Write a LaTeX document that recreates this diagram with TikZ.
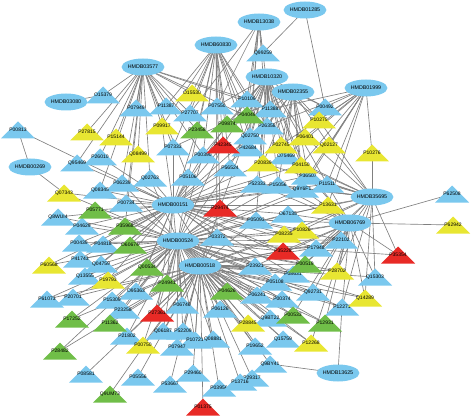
\documentclass[tikz,border=0pt]{standalone}
\usepackage{fontspec}
\setmainfont{Liberation Sans}
\usetikzlibrary{shapes.geometric,backgrounds}
\definecolor{metblue}{RGB}{122,200,238}
\definecolor{protblue}{RGB}{122,200,238}
\definecolor{protyellow}{RGB}{232,230,50}
\definecolor{protgreen}{RGB}{112,190,72}
\definecolor{protred}{RGB}{232,42,38}
\definecolor{linkgrey}{RGB}{128,128,128}
\tikzset{
  met/.style={ellipse,fill=metblue,minimum width=40pt,minimum height=17pt,inner sep=0pt,
    font=\fontsize{5.3}{6}\selectfont},
  prot/.style={rectangle,minimum width=34pt,minimum height=17pt,inner sep=0pt,
    font=\fontsize{5}{6}\selectfont,
    path picture={\fill[#1] (path picture bounding box.south west)
      -- (path picture bounding box.south east) -- (path picture bounding box.north) -- cycle;}},
  link/.style={linkgrey,line width=0.65pt}
}
\begin{document}
\begin{tikzpicture}[x=1pt,y=-1pt]
\useasboundingbox (0,0) rectangle (474,417);

\foreach \n/\x/\y in {Q99259/263/53, O15379/103/95, P07949/136/108, P00813/18/130, P11387/166/106,
  P27707/190/113, P07550/217/106, P10109/247/99, P11388/270/109, P26358/267/126, P00492/325/107,
  Q02750/250/136, P42684/248/148, P07333/173/147, P00390/203/155, O75469/286/156, P26010/100/157,
  Q95469/77/163, P56524/230/168, P36507/308/176, Q02763/150/178, P05106/188/177, P06239/122/183,
  Q08345/100/190, P52333/257/184, P15056/278/185, Q9Y6F1/302/189, P11511/327/184, P00734/126/203,
  Q8WUI4/58/217, P05093/256/220, O67135/288/214, P04629/82/226, P03372/217/237, P62508/452/194,
  P22102/341/240, P00439/79/243, P04818/103/244, P17948/316/248, P41743/80/259, Q04759/101/264,
  P23921/255/266, Q13555/85/276, P08631/293/274, Q15303/375/277, P05108/275/282, O95363/136/291,
  Q92731/313/292, P06241/257/295, P61073/47/299, P20701/73/297, P15309/112/300, P00374/282/299,
  P06746/182/305, P12271/342/307, P23258/123/310, P06126/220/309, Q9BT22/270/318, Q06187/163/331,
  P52209/183/331, P21802/127/336, P10721/195/340, Q08881/213/339, Q15759/283/339, P07947/177/347,
  P19652/255/346, Q9BY41/270/364, P29460/193/373, P08581/86/374, P05556/138/377, P29317/252/378,
  P53667/170/384, P03956/219/388, P13716/240/382}
  \node[prot=protblue] (\n) at (\x,\y) {\n};

\foreach \n/\x/\y in {P27815/87/132, P15144/116/137, P09917/162/126, O15530/192/93, P10275/319/120,
  P06401/305/137, P02745/281/145, Q02127/329/145, P10276/372/153, Q08499/138/154, P20839/263/163,
  P04150/301/165, Q07343/64/193, P13631/328/205, P10826/302/230, P08235/284/234, P62942/453/225,
  P60568/49/265, P28702/337/271, P19793/108/280, Q14289/365/298, P28845/248/323, P00750/143/345,
  P12268/311/343}
  \node[prot=protyellow] (\n) at (\x,\y) {\n};

\foreach \n/\x/\y in {P04049/247/115, P09874/227/124, P23458/197/130, P05771/95/210, P35968/125/226,
  O60674/130/245, Q00534/147/267, P00519/305/264, P24941/167/283, P04626/227/291, P00533/293/315,
  P17252/72/319, P11362/110/323, P12931/325/323, P28482/60/351, Q9UM73/110/394}
  \node[prot=protgreen] (\n) at (\x,\y) {\n};

\foreach \n/\x/\y in {P42345/223/145, P29474/220/208, P35228/283/251, P35354/398/255,
  P27361/157/313, P01375/203/407}
  \node[prot=protred] (\n) at (\x,\y) {\n};

\foreach \n/\x/\y in {HMDB01285/305/10, HMDB13038/259/22, HMDB60830/216/45, HMDB03577/143/67,
  HMDB10320/267/77, HMDB02355/293/92, HMDB01999/366/88, HMDB03080/66/102, HMDB00269/30/167,
  HMDB00151/173/205, HMDB00524/178/241, HMDB00518/200/266, HMDB35695/372/197,
  HMDB06769/350/223, HMDB13625/338/373}
  \node[met] (\n) at (\x,\y) {\n};

\begin{pgfonlayer}{background}
\foreach \t in {P00813,Q95469,P26010,Q07343,Q08345,P06239,P00734,P05771,Q8WUI4,P04629,P35968,
  P00439,P04818,O60674,P41743,Q04759,P60568,Q00534,Q13555,P19793,O95363,P07333,Q02763,P05106,
  P00390,P42345,P56524,P29474,P05093,P03372,P52333,P15056,Q9Y6F1,P11511,P13631,O67135,P08235,
  P10826,P35228,P23921,P24941,P04626,P06746,P27361,P09917,P23458,P09874,P42684,Q02750,P20839,
  P36507,P04150,P17948,P22102,P00519,P08631}
  \draw[link] (HMDB00151.center) -- (\t.center);
\foreach \t in {P61073,P20701,P15309,P23258,P17252,P11362,P21802,P28482,P00750,Q06187,P52209,
  P10721,Q08881,P07947,P06126,P05108,P06241,P00374,Q9BT22,P28845,P00533,Q15759,P19652,P12931,
  P12268,Q92731,P28702,Q14289,P12271,P13631,P11511,Q9Y6F1,P52333,P15056,P05093,P03372,P29474,
  P56524,P00390,P42345,P05106,Q02763,P06239,P00734,P35968,O60674,P04818,P05771,Q00534,P19793,
  O95363,P24941,P04626,P06746,P27361,P35228,P08235,P10826,O67135,P23921,P00519,P08631,P17948,
  P22102,P35354,Q07343,Q8WUI4,P04629,P00439,P41743,Q04759,P60568,Q13555}
  \draw[link] (HMDB00524.center) -- (\t.center);
\foreach \t in {P28482,Q9UM73,P08581,P05556,P53667,P29460,P03956,P13716,P29317,P01375,Q9BY41,
  P19652,Q15759,P28845,Q9BT22,P00533,P12931,P12268,P12271,P06126,P07947,P10721,Q08881,Q06187,
  P52209,P00750,P21802,P11362,P17252,P23258,P15309,P20701,P61073,P06746,P27361,P04626,P24941,
  P05108,P06241,P00374,Q92731,P23921,P08631,P00519,P35228,P03372,P05093,P29474,P10826,P08235,
  P22102,P17948,Q14289,Q15303,P28702}
  \draw[link] (HMDB00518.center) -- (\t.center);
\foreach \t in {O15379,P07949,P27815,P15144,P09917,P11387,Q08499,P26010,Q95469,P07333,P06239,
  Q02763,P00390,P05106,P00734,P27707,O15530,P23458,P35968,Q08345,P10109,P11388,P26358}
  \draw[link] (HMDB03577.center) -- (\t.center);
\foreach \t in {P11387,O15530,P27707,P07550,P09917,P23458,P09874,P04049,P42345,P00390,P56524,
  P07333,P05106,Q02750,P42684,P10109,P26358,P29474,P03372}
  \draw[link] (HMDB60830.center) -- (\t.center);
\foreach \t in {Q99259,P10109,P11388,P07550,P04049,P26358,Q02750,P42684,P27707}
  \draw[link] (HMDB13038.center) -- (\t.center);
\foreach \t in {Q99259,P00492}
  \draw[link] (HMDB01285.center) -- (\t.center);
\foreach \t in {P10109,P11388,P04049,P09874,P26358,Q02750,P42684,P02745,P06401,O75469,P20839,
  P56524,P52333,P15056,P36507,P04150,P07550,P00390,P42345,P29474,P05093,Q9Y6F1,P11511,P00492,
  P10275}
  \draw[link] (HMDB10320.center) -- (\t.center);
\foreach \t in {P11388,P26358,P02745,P06401,O75469,P20839,P04150,P36507,P15056,Q9Y6F1,P00492,
  P10275,Q02127,P42684,P07333}
  \draw[link] (HMDB02355.center) -- (\t.center);
\foreach \t in {P00492,P10275,P06401,Q02127,P10276,P04150,P36507,P11511,Q9Y6F1,P13631,P02745,
  O75469,P11388,P26358}
  \draw[link] (HMDB01999.center) -- (\t.center);
\foreach \t in {P10276,Q02127,P11511,P13631,Q9Y6F1,P36507,P04150,P15056,P52333,O67135,P10826,
  P08235,P17948,P22102,P35354,P00519,P28702,Q15303,Q14289,P12271,P06401,P10275,P20839,O75469}
  \draw[link] (HMDB35695.center) -- (\t.center);
\foreach \t in {P62508,P62942,P35354,P22102,P17948,P13631,P11511,P10826,P08235,O67135,P35228,
  P00519,P28702,Q92731,P08631,P12931,P12271,Q15303,Q14289,P23921,P05093,P15056,P52333,Q9Y6F1,
  P36507,P04150,P12268,P00533}
  \draw[link] (HMDB06769.center) -- (\t.center);
\foreach \t in {P12271,Q9BY41}
  \draw[link] (HMDB13625.center) -- (\t.center);
\foreach \t in {P00813,Q07343}
  \draw[link] (HMDB00269.center) -- (\t.center);
\draw[link] (HMDB03080.center) -- (O15379.center);
\end{pgfonlayer}
\end{tikzpicture}
\end{document}
